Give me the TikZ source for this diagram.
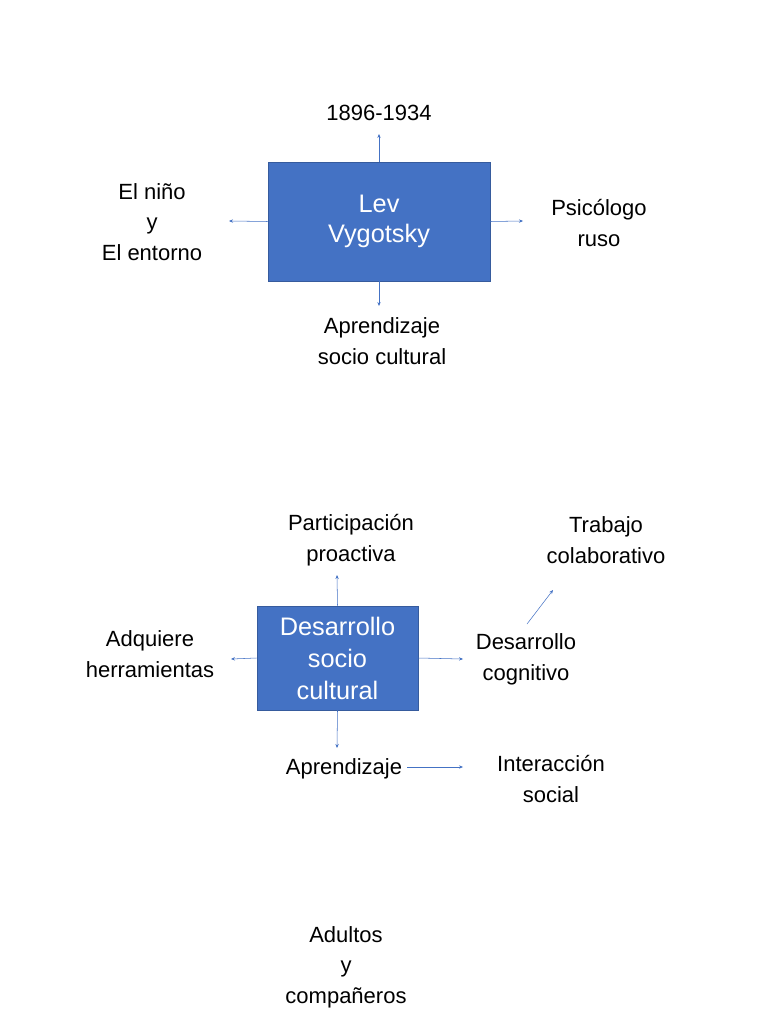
\documentclass[tikz,border=0pt]{standalone}
\usepackage{fontspec}
\setmainfont{Liberation Sans}
\usetikzlibrary{arrows.meta}
\definecolor{boxblue}{HTML}{4472C4}
\tikzset{
 lbl/.style={align=center,font=\fontsize{16.5}{30}\selectfont,inner sep=0pt},
 bluebox/.style={fill=boxblue,draw=boxblue!80!black,text=white,align=center,font=\fontsize{19}{25}\selectfont},
 arr/.style={-{Stealth[length=3pt,width=2.5pt]},draw=boxblue,line width=0.4pt}
}
\begin{document}
\begin{tikzpicture}[x=0.75pt,y=-0.75pt]
\useasboundingbox (0,0) rectangle (768,1024);
\node[bluebox,minimum width=166.5pt,minimum height=89pt] (lev) at (379,221.5) {Lev\\[-2pt]Vygotsky};
\node[lbl] (dates) at (379,113) {1896-1934};
\node[lbl] (nino) at (152,222) {El niño\\[-7pt]y\\[-7pt]El entorno};
\node[lbl] (psic) at (599,223) {Psicólogo\\[-7pt]ruso};
\node[lbl] (aprsc) at (382,341) {Aprendizaje\\[-7pt]socio cultural};
\coordinate (t1) at (379,134); \coordinate (l1) at (229,221);
\coordinate (r1) at (523,221); \coordinate (b1) at (379,306);
\draw[arr] (lev.north) -- (t1);
\draw[arr] (lev.west) -- (l1);
\draw[arr] (lev.east) -- (r1);
\draw[arr] (lev.south) -- (b1);

\node[bluebox,minimum width=120.75pt,minimum height=78pt,font=\fontsize{19}{24}\selectfont] (des) at (337.5,658) {Desarrollo\\socio\\cultural};
\node[lbl] (part) at (351,540) {Participación\\[-7pt]proactiva};
\node[lbl] (trab) at (606,540) {Trabajo\\[-7pt]colaborativo};
\node[lbl] (adq) at (150,654) {Adquiere\\[-7pt]herramientas};
\node[lbl] (cog) at (526,659) {Desarrollo\\[-7pt]cognitivo};
\node[lbl] (apr) at (344,769) {Aprendizaje};
\node[lbl] (inter) at (551,779) {Interacción\\[-7pt]social};
\node[lbl] (adul) at (346,967) {Adultos\\[-7pt]y\\[-7pt]compañeros};
\coordinate (t2) at (337,575); \coordinate (l2) at (231,659);
\coordinate (r2) at (463,659); \coordinate (b2) at (337,748);
\coordinate (c1) at (527,624); \coordinate (c2) at (553,590);
\coordinate (a2) at (463,767);
\draw[arr] (des.north) -- (t2);
\draw[arr] (des.west) -- (l2);
\draw[arr] (des.east) -- (r2);
\draw[arr] (des.south) -- (b2);
\draw[arr] (c1) -- (c2);
\draw[arr] (apr.east) ++(5,-2) -- (a2);
\end{tikzpicture}
\end{document}
